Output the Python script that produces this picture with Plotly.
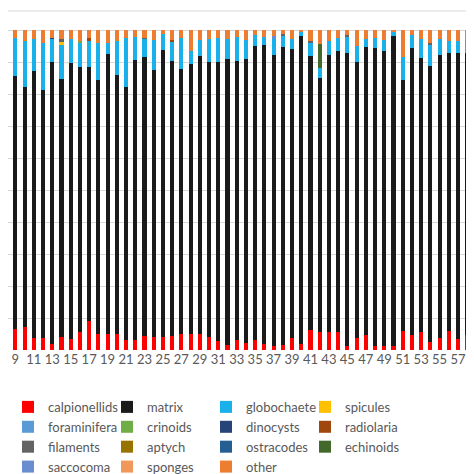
import plotly.graph_objects as go

samples = list(range(8, 60))
calpionellids = [4.5,6.7,7.2,3.6,3.8,2.0,4.0,3.3,5.6,9.0,4.9,4.9,4.9,3.0,3.1,4.5,4.0,4.2,4.5,5.0,5.1,4.9,4.2,2.7,1.5,3.0,2.3,3.1,2.0,1.2,1.5,3.8,2.0,6.4,5.6,5.6,5.7,1.4,3.8,4.7,1.4,1.4,1.2,6.0,4.7,5.6,2.6,3.6,6.0,3.3,4.7,7.5]
matrix = [77.1,79.0,75.1,83.7,77.5,88.2,80.8,86.3,83.0,79.6,79.4,87.6,81.1,79.1,87.5,87.0,83.5,89.55,86.0,82.8,84.2,87.1,86.0,87.5,89.6,87.4,88.7,92.0,93.3,91.1,93.15,90.3,96.2,85.6,79.4,86.7,87.9,91.5,86.4,89.9,93.0,92.2,97.0,78.5,89.6,85.7,86.1,88.7,86.8,89.5,88.1,86.5]
globochaete = [15.8,12.0,14.4,10.1,14.8,7.2,10.6,7.6,7.6,7.9,11.8,3.6,10.5,15.6,7.3,5.9,9.5,5.0,5.8,9.9,4.2,4.9,7.0,7.5,6.3,7.5,5.9,3.3,2.7,5.0,3.6,3.1,1.3,3.9,3.3,4.4,3.9,5.2,4.9,2.8,3.3,3.4,1.4,7.0,4.1,5.9,6.9,5.1,3.9,3.9,3.9,3.0]
other = [2.6,2.3,3.3,2.6,3.9,2.3,2.6,2.8,3.3,2.3,3.9,3.9,3.5,2.3,2.1,2.3,3.0,1.25,3.0,2.3,6.5,3.1,2.8,2.3,2.6,2.1,3.1,1.6,2.0,1.8,1.25,2.8,0.5,3.3,4.4,3.3,2.5,1.6,4.9,2.6,2.3,3.0,0.4,8.5,1.6,2.8,3.9,2.6,3.3,3.3,3.3,3.0]

def sparse(d):
    return [d.get(s, 0) for s in samples]

spicules = sparse({14: 1.0})
foraminifera = sparse({})
crinoids = sparse({16: 0.5})
dinocysts = sparse({13: 0.3})
radiolaria = sparse({17: 1.2, 26: 0.7})
filaments = sparse({14: 1.0, 23: 0.3, 38: 0.5, 41: 0.8, 45: 0.3, 54: 0.5})
aptych = sparse({})
ostracodes = sparse({})
echinoids = sparse({42: 7.3})
saccocoma = sparse({37: 0.9})
sponges = sparse({})

series = [
    ("calpionellids", calpionellids, "#FF0000"),
    ("matrix", matrix, "#1A1A1A"),
    ("globochaete", globochaete, "#1AB0EA"),
    ("spicules", spicules, "#FFC000"),
    ("foraminifera", foraminifera, "#5B9BD5"),
    ("crinoids", crinoids, "#70AD47"),
    ("dinocysts", dinocysts, "#264478"),
    ("radiolaria", radiolaria, "#9E480E"),
    ("filaments", filaments, "#636363"),
    ("aptych", aptych, "#997300"),
    ("ostracodes", ostracodes, "#255E91"),
    ("echinoids", echinoids, "#43682B"),
    ("saccocoma", saccocoma, "#698ED0"),
    ("sponges", sponges, "#F1975A"),
    ("other", other, "#ED7D31"),
]

fig = go.Figure()
for name, vals, col in series:
    fig.add_bar(x=samples, y=[v / 100 for v in vals], name=name, marker_color=col, marker_line_width=0)

fig.update_layout(
    barmode="stack", bargap=0.55,
    width=474, height=474,
    margin=dict(l=0, r=0, t=3, b=132, autoexpand=False),
    paper_bgcolor="white", plot_bgcolor="white",
    font=dict(family="Lato, Open Sans, sans-serif", size=13, color="#595959"),
    xaxis=dict(range=[8.2, 59.6], tickvals=list(range(9, 60, 2)), showgrid=False,
               ticks="", tickfont=dict(size=13), automargin=False),
    yaxis=dict(range=[0, 1.06], dtick=0.1, showgrid=True, gridcolor="#D9D9D9",
               showticklabels=False, zeroline=False, automargin=False),
    legend=dict(orientation="h", x=0.0, xanchor="left", yref="container", y=0.19, yanchor="top",
                entrywidth=54, entrywidthmode="pixels", traceorder="normal",
                font=dict(size=13, color="#595959"), itemwidth=30, tracegroupgap=0),
    shapes=[dict(type="line", xref="paper", yref="paper", x0=0, x1=1, y0=1, y1=1,
                 line=dict(color="#D9D9D9", width=1))],
)
fig.write_html("out.html")
